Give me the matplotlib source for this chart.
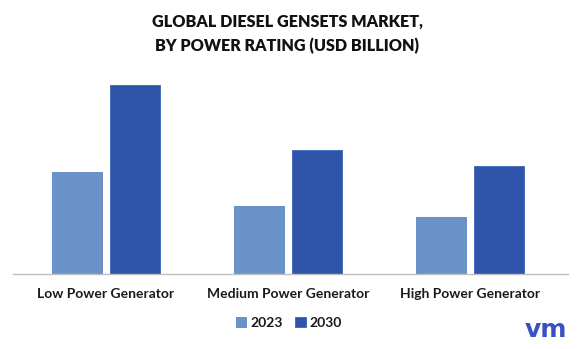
import matplotlib
matplotlib.use("Agg")
import matplotlib.pyplot as plt
import numpy as np

categories = ["Low Power Generator", "Medium Power Generator", "High Power Generator"]
years = ["2023", "2030"]
values_2023 = [5.4, 3.6, 3.0]
values_2030 = [10.0, 6.55, 5.7]
colors = ["#6A93C9", "#2E55A9"]

plt.rcParams['font.family'] = ['Lato', 'DejaVu Sans']

fig = plt.figure(figsize=(5.78, 3.49), dpi=100)
ax = fig.add_axes([13/578, 1-274/349, 555/578, (274-60)/349])

x = np.arange(len(categories))
w = 0.275
off = 0.159
ax.bar(x - off, values_2023, w, color=colors[0], edgecolor="#5B86C2", linewidth=0.6, label=years[0])
ax.bar(x + off, values_2030, w, color=colors[1], edgecolor="#3B63B5", linewidth=0.6, label=years[1])

ax.set_xlim(-0.511, 2.538)
top = 10.0 * (274-60) / (274-85)
ax.set_ylim(0, top)
ax.set_yticks([])
ax.set_xticks(x)
ax.set_xticklabels(categories, fontsize=10, fontweight="bold", color="#1a1a1a")
ax.tick_params(axis='x', length=0, pad=10)
for s in ["top", "right", "left"]:
    ax.spines[s].set_visible(False)
ax.spines["bottom"].set_color("#BFBFBF")
ax.spines["bottom"].set_linewidth(1.0)

fig.text(0.497, 1-22/349, "GLOBAL DIESEL GENSETS MARKET,", ha="center", va="center",
         fontsize=11.6, fontweight="heavy", color="#111111")
fig.text(0.497, 1-46/349, "BY POWER RATING (USD BILLION)", ha="center", va="center",
         fontsize=11.6, fontweight="heavy", color="#111111")

leg = fig.legend(loc="center", bbox_to_anchor=(0.5, 1-323/349), ncol=2, frameon=False,
                 prop={"size": 10, "weight": "bold"}, handlelength=0.75, handleheight=0.75,
                 handletextpad=0.3, columnspacing=0.9)
for t in leg.get_texts():
    t.set_color("#1a1a1a")

fig.text(546/578, 1-330/349, "vm", ha="center", va="center", fontsize=18,
         fontweight="bold", color="#3A50C2", family="DejaVu Sans")

fig.savefig("out.png", dpi=100)
